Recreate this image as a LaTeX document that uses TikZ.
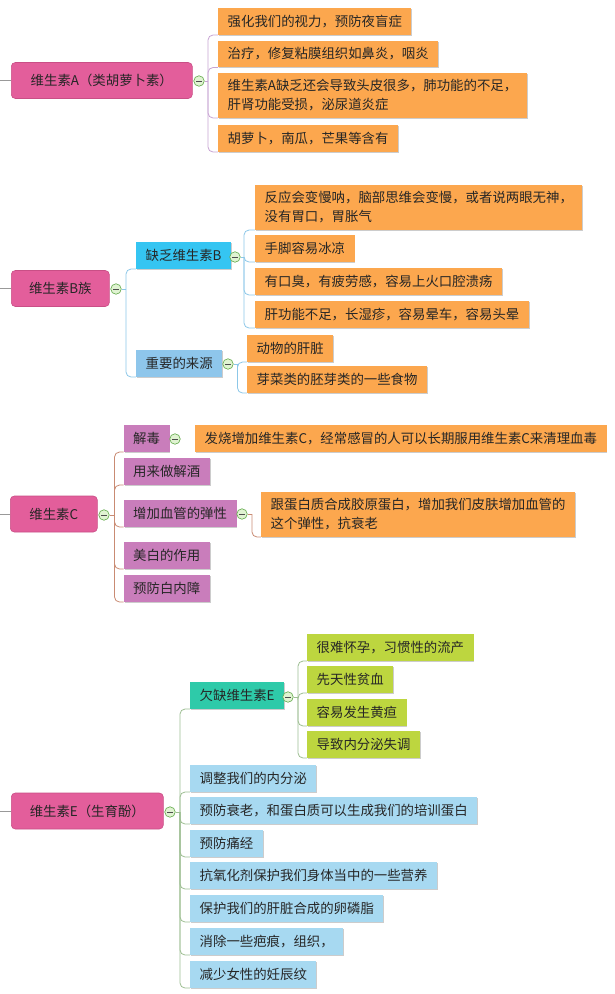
\documentclass[tikz,border=0pt]{standalone}
\usepackage{fontspec}
\setmainfont{Noto Sans CJK SC}
\usetikzlibrary{shadows}
\definecolor{rootpink}{HTML}{E35E9B}
\definecolor{rootedge}{HTML}{C94F86}
\definecolor{orangebox}{HTML}{FCA74E}
\definecolor{cyanbox}{HTML}{35C5F2}
\definecolor{srcblue}{HTML}{8EC6EB}
\definecolor{mauve}{HTML}{C97DBB}
\definecolor{tealbox}{HTML}{2ECAA9}
\definecolor{ltblue}{HTML}{A7D9F1}
\definecolor{limebox}{HTML}{BDD63F}
\definecolor{lineA}{HTML}{C7A3D3}
\definecolor{lineB}{HTML}{8CC7E8}
\definecolor{lineC}{HTML}{C98B73}
\definecolor{lineE}{HTML}{9DBE92}
\definecolor{txt}{HTML}{262626}
\definecolor{iconfill}{HTML}{E0F3D2}
\definecolor{iconedge}{HTML}{5FA847}
\begin{document}
\begin{tikzpicture}[x=1pt,y=-1pt,
  every node/.style={font=\fontsize{13.4}{19}\selectfont, text=txt},
  rootbox/.style={fill=rootpink, draw=rootedge, line width=0.6pt, rounded corners=4pt,
    minimum height=36pt, inner xsep=0pt, align=center, anchor=west},
  leaf/.style={anchor=south west, inner xsep=9.5pt, inner ysep=0pt, minimum height=26.5pt,
    align=left, drop shadow={shadow xshift=0.8pt, shadow yshift=-0.8pt, fill=black, opacity=0.2}},
  obox/.style={leaf, fill=orangebox},
  cbox/.style={leaf, fill=cyanbox},
  sbox/.style={leaf, fill=srcblue},
  mbox/.style={leaf, fill=mauve},
  tbox/.style={leaf, fill=tealbox},
  ebox/.style={leaf, fill=ltblue},
  lbox/.style={leaf, fill=limebox},
  minusicon/.style={circle, draw=iconedge, fill=iconfill, line width=0.6pt, minimum size=10.5pt,
    inner sep=0pt, path picture={\draw[line width=0.7pt, black!70]
      ([xshift=-2.8pt]path picture bounding box.center) -- ([xshift=2.8pt]path picture bounding box.center);}},
  stub/.style={draw=black!40, line width=0.7pt},
  lnA/.style={draw=lineA, line width=0.8pt},
  lnB/.style={draw=lineB, line width=0.8pt},
  lnC/.style={draw=lineC, line width=0.8pt},
  lnE/.style={draw=lineE, line width=0.8pt},
  rc/.style={rounded corners=5pt}
]
\useasboundingbox (0,0) rectangle (615,994);

% ---------------- A ----------------
\node[rootbox, minimum width=181pt] (A) at (11,80.5) {维生素A（类胡萝卜素）};
\node[obox] (a1) at (218,35) {强化我们的视力，预防夜盲症};
\node[obox] (a2) at (218,67.5) {治疗，修复粘膜组织如鼻炎，咽炎};
\node[obox, minimum height=45pt] (a3) at (218,118) {维生素A缺乏还会导致头皮很多，肺功能的不足，\\肝肾功能受损，泌尿道炎症};
\node[obox] (a4) at (218,152) {胡萝卜，南瓜，芒果等含有};
\coordinate (sA) at (0,80.5);
\coordinate (tA) at (208,81);

% ---------------- B ----------------
\node[rootbox, minimum width=98pt] (B) at (11,288.5) {维生素B族};
\node[cbox] (b1) at (136,269) {缺乏维生素B};
\node[obox, minimum height=45pt] (b11) at (255,230) {反应会变慢呐，脑部思维会变慢，或者说两眼无神，\\没有胃口，胃胀气};
\node[obox] (b12) at (255,262) {手脚容易冰凉};
\node[obox] (b13) at (255,295) {有口臭，有疲劳感，容易上火口腔溃疡};
\node[obox] (b14) at (255,328) {肝功能不足，长湿疹，容易晕车，容易头晕};
\node[sbox] (b2) at (136,377) {重要的来源};
\node[obox] (b21) at (247,362) {动物的肝脏};
\node[obox] (b22) at (247,393) {芽菜类的胚芽类的一些食物};
\coordinate (sB) at (0,288.5);
\coordinate (tB) at (126,289);
\coordinate (tb1) at (244,257);
\coordinate (tb2) at (237.5,364);

% ---------------- C ----------------
\node[rootbox, minimum width=87pt] (C) at (10,514) {维生素C};
\node[mbox] (c1) at (123.5,452) {解毒};
\node[obox] (c11) at (195,452) {发烧增加维生素C，经常感冒的人可以长期服用维生素C来清理血毒};
\node[mbox] (c2) at (123.5,485) {用来做解酒};
\node[mbox] (c3) at (123.5,527) {增加血管的弹性};
\node[obox, minimum height=45pt] (c31) at (261,537) {跟蛋白质合成胶原蛋白，增加我们皮肤增加血管的\\这个弹性，抗衰老};
\node[mbox] (c4) at (123.5,569) {美白的作用};
\node[mbox] (c5) at (123.5,602) {预防白内障};
\coordinate (sC) at (0,514);
\coordinate (tC) at (114.5,515);
\coordinate (tc3) at (252,514);

% ---------------- E ----------------
\node[rootbox, minimum width=152pt] (E) at (11,811) {维生素E（生育酚）};
\node[tbox] (e1) at (190,709) {欠缺维生素E};
\node[lbox] (e11) at (307,661) {很难怀孕，习惯性的流产};
\node[lbox] (e12) at (307,693) {先天性贫血};
\node[lbox] (e13) at (307,726) {容易发生黄疸};
\node[lbox] (e14) at (307,758) {导致内分泌失调};
\node[ebox] (e2) at (190,792) {调整我们的内分泌};
\node[ebox] (e3) at (190,824) {预防衰老，和蛋白质可以生成我们的培训蛋白};
\node[ebox] (e4) at (190,857) {预防痛经};
\node[ebox] (e5) at (190,889) {抗氧化剂保护我们身体当中的一些营养};
\node[ebox] (e6) at (190,922) {保护我们的肝脏合成的卵磷脂};
\node[ebox] (e7) at (190,955) {消除一些疤痕，组织，};
\node[ebox] (e8) at (190,988) {减少女性的妊辰纹};
\coordinate (sE) at (0,811);
\coordinate (tE) at (180,812);
\coordinate (te1) at (298,697);

% ---------------- connectors ----------------
\draw[stub] (sA) -- (A.west);
\draw[stub] (sB) -- (B.west);
\draw[stub] (sC) -- (C.west);
\draw[stub] (sE) -- (E.west);

\foreach \n in {a1,a2,a3,a4} \draw[lnA, rc] (tA) |- (\n.south west);
\foreach \n in {b1,b2} \draw[lnB, rc] (tB) |- (\n.south west);
\foreach \n in {b11,b12,b13,b14} \draw[lnB, rc] (tb1) |- (\n.south west);
\foreach \n in {b21,b22} \draw[lnB, rc] (tb2) |- (\n.south west);
\foreach \n in {c1,c2,c3,c4,c5} \draw[lnC, rc] (tC) |- (\n.south west);
\draw[lnC, rc] (tc3) |- (c31.south west);
\foreach \n in {e1,e2,e3,e4,e5,e6,e7,e8} \draw[lnE, rc] (tE) |- (\n.south west);
\foreach \n in {e11,e12,e13,e14} \draw[lnE, rc] (te1) |- (\n.south west);

% ---------------- collapse icons ----------------
\node[minusicon] (cA) at (199,81) {};
\node[minusicon] (cB) at (116,289) {};
\node[minusicon] (cb1) at (235,257) {};
\node[minusicon] (cb2) at (228,364) {};
\node[minusicon] (cC) at (104,515) {};
\node[minusicon] (cc1) at (175,439) {};
\node[minusicon] (cc3) at (242,514) {};
\node[minusicon] (cE) at (170,812) {};
\node[minusicon] (ce1) at (288,697) {};

\draw[lnA] (cA.east) -- (tA);
\draw[lnB] (cB.east) -- (tB);
\draw[lnB] (cb1.east) -- (tb1);
\draw[lnB] (cb2.east) -- (tb2);
\draw[lnC] (cC.east) -- (tC);
\draw[lnC] (cc3.east) -- (tc3);
\draw[lnE] (cE.east) -- (tE);
\draw[lnE] (ce1.east) -- (te1);
\end{tikzpicture}
\end{document}
